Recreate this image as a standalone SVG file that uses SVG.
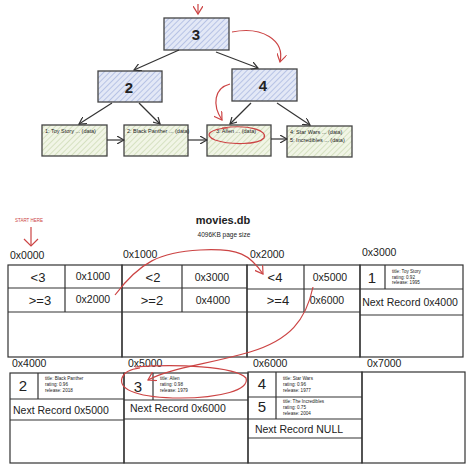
<svg xmlns="http://www.w3.org/2000/svg" width="474" height="471" viewBox="0 0 474 471">
<defs>
<pattern id="hb" patternUnits="userSpaceOnUse" width="4" height="4" patternTransform="rotate(45)">
<rect width="4" height="4" fill="#e3e8f6"/><line x1="0" y1="0" x2="0" y2="4" stroke="#9aaada" stroke-width="1.2"/>
</pattern>
<pattern id="hg" patternUnits="userSpaceOnUse" width="4" height="4" patternTransform="rotate(45)">
<rect width="4" height="4" fill="#f1f5e6"/><line x1="0" y1="0" x2="0" y2="4" stroke="#c5d4a8" stroke-width="1.2"/>
</pattern>
<marker id="ah" markerWidth="8" markerHeight="8" refX="7" refY="4" orient="auto" markerUnits="userSpaceOnUse">
<path d="M0,0 L7,4 L0,8" fill="none" stroke="#333" stroke-width="1.2"/>
</marker>
<marker id="ar" markerWidth="10" markerHeight="10" refX="8" refY="5" orient="auto" markerUnits="userSpaceOnUse">
<path d="M0,0 L8,5 L0,10" fill="none" stroke="#c44" stroke-width="1.2"/>
</marker>
</defs>
<style>
text{font-family:"Liberation Sans",Arial,sans-serif;fill:#222}
.n{font-size:15px;font-weight:bold;text-anchor:middle}
.lf{font-size:5.5px}
.bn{stroke:#444;stroke-width:1.3;fill:url(#hb)}
.gn{stroke:#444;stroke-width:1.3;fill:url(#hg)}
.c{stroke:#333;stroke-width:1.2;fill:none}
.r{stroke:#c44;stroke-width:1.2;fill:none}
.g{stroke:#333;stroke-width:1.2;fill:none}
.k{font-size:13px;text-anchor:middle}
.a{font-size:10.5px}
.ac{font-size:10.5px;text-anchor:middle}
.s{font-size:4.6px}
.d{font-size:15px;text-anchor:middle}
</style>
<rect width="474" height="471" fill="#fff"/>

<!-- Tree nodes -->
<g id="node3"><rect class="bn" x="164" y="18" width="65" height="32"/><text class="n" x="196" y="40">3</text></g>
<g id="node2"><rect class="bn" x="98" y="71" width="64" height="31"/><text class="n" x="129" y="93">2</text></g>
<g id="node4"><rect class="bn" x="232" y="69" width="65" height="32"/><text class="n" x="263" y="91">4</text></g>
<g id="leaf1"><rect class="gn" x="42" y="125" width="65" height="31"/><text class="lf" x="45" y="133">1: Toy Story ... (data)</text></g>
<g id="leaf2"><rect class="gn" x="124" y="125" width="64" height="31"/><text class="lf" x="127" y="133">2: Black Panther ... (data)</text></g>
<g id="leaf3"><rect class="gn" x="207" y="125" width="64" height="31"/><text class="lf" x="216" y="133">3: Alien ... (data)</text></g>
<g id="leaf4"><rect class="gn" x="287" y="126" width="65" height="31"/><text class="lf" x="290" y="134">4: Star Wars ... (data)</text><text class="lf" x="290" y="142">5: Incredibles ... (data)</text></g>

<g id="connectors">
<line class="c" x1="179" y1="50" x2="134" y2="70" marker-end="url(#ah)"/>
<line class="c" x1="216" y1="52" x2="258" y2="68" marker-end="url(#ah)"/>
<line class="c" x1="112" y1="103" x2="79" y2="124" marker-end="url(#ah)"/>
<line class="c" x1="139" y1="103" x2="160" y2="124" marker-end="url(#ah)"/>
<line class="c" x1="251" y1="103" x2="230" y2="124" marker-end="url(#ah)"/>
<line class="c" x1="277" y1="103" x2="310" y2="125" marker-end="url(#ah)"/>
<line class="c" x1="107" y1="140" x2="124" y2="140" marker-end="url(#ah)"/>
<line class="c" x1="188" y1="140" x2="207" y2="140" marker-end="url(#ah)"/>
<line class="c" x1="271" y1="139" x2="287" y2="139" marker-end="url(#ah)"/>
</g>

<!-- red annotations (top) -->
<g id="annotations-top">
<path class="r" d="M198,4 L198,14" marker-end="url(#ar)"/>
<path class="r" d="M232,32 C262,26 285,40 280,62" marker-end="url(#ar)"/>
<path class="r" d="M230,84 C214,88 212,105 222,120" marker-end="url(#ar)"/>
<path class="r" d="M222,128 C250,124 268,131 264,138 C258,145 230,145 215,140 C203,135 210,129 228,128"/>
</g>

<!-- Bottom: database file -->
<g id="title">
<text x="223" y="224" style="font-size:11px;font-weight:bold;text-anchor:middle">movies.db</text>
<text x="224" y="237" style="font-size:6.5px;text-anchor:middle">4096KB page size</text>
</g>
<g id="start">
<text x="29" y="222" style="font-size:4.5px;fill:#c44;text-anchor:middle">START HERE</text>
<line class="r" x1="31" y1="227" x2="31" y2="246"/>
<path class="r" d="M24,239 L31,246 L38,239"/>
</g>

<!-- page 0x0000 -->
<g id="page0000">
<text class="a" x="10" y="259">0x0000</text>
<rect class="g" x="8" y="265" width="114" height="92"/>
<line class="g" x1="65" y1="265" x2="65" y2="312"/>
<line class="g" x1="8" y1="288" x2="122" y2="288"/>
<line class="g" x1="8" y1="312" x2="122" y2="312"/>
<text class="k" x="38" y="282">&lt;3</text>
<text class="ac" x="93" y="280">0x1000</text>
<text class="k" x="40" y="305">&gt;=3</text>
<text class="ac" x="93" y="303">0x2000</text>
</g>
<!-- page 0x1000 -->
<g id="page1000">
<text class="a" x="123" y="258">0x1000</text>
<rect class="g" x="122" y="265" width="125" height="92"/>
<line class="g" x1="182" y1="265" x2="182" y2="312"/>
<line class="g" x1="122" y1="288" x2="247" y2="288"/>
<line class="g" x1="122" y1="312" x2="247" y2="312"/>
<text class="k" x="153" y="282">&lt;2</text>
<text class="ac" x="212" y="281">0x3000</text>
<text class="k" x="152" y="305">&gt;=2</text>
<text class="ac" x="213" y="304">0x4000</text>
</g>
<!-- page 0x2000 -->
<g id="page2000">
<text class="a" x="250" y="258">0x2000</text>
<rect class="g" x="247" y="265" width="113" height="92"/>
<line class="g" x1="304" y1="265" x2="304" y2="312"/>
<line class="g" x1="247" y1="289" x2="360" y2="289"/>
<line class="g" x1="247" y1="312" x2="360" y2="312"/>
<text class="k" x="275" y="282">&lt;4</text>
<text class="ac" x="330" y="281">0x5000</text>
<text class="k" x="278" y="305">&gt;=4</text>
<text class="ac" x="327" y="304">0x6000</text>
</g>
<!-- page 0x3000 -->
<g id="page3000">
<text class="a" x="362" y="256">0x3000</text>
<rect class="g" x="360" y="265" width="103" height="92"/>
<line class="g" x1="385" y1="265" x2="385" y2="289"/>
<line class="g" x1="360" y1="289" x2="463" y2="289"/>
<line class="g" x1="360" y1="315" x2="463" y2="315"/>
<text class="d" x="372" y="283">1</text>
<text class="s" x="392" y="273">title: Toy Story</text>
<text class="s" x="392" y="278.5">rating: 0.92</text>
<text class="s" x="392" y="284">release: 1995</text>
<text class="ac" x="410" y="306">Next Record 0x4000</text>
</g>
<!-- page 0x4000 -->
<g id="page4000">
<text class="a" x="12" y="367">0x4000</text>
<rect class="g" x="10" y="373" width="114" height="90"/>
<line class="g" x1="38" y1="373" x2="38" y2="399"/>
<line class="g" x1="10" y1="399" x2="124" y2="399"/>
<line class="g" x1="10" y1="420" x2="124" y2="420"/>
<text class="d" x="23" y="391">2</text>
<text class="s" x="45" y="380">title: Black Panther</text>
<text class="s" x="45" y="386">rating: 0.96</text>
<text class="s" x="45" y="392">release: 2018</text>
<text class="a" x="13" y="414">Next Record 0x5000</text>
</g>
<!-- page 0x5000 -->
<g id="page5000">
<text class="a" x="128" y="367">0x5000</text>
<rect class="g" x="124" y="373" width="124" height="90"/>
<line class="g" x1="153" y1="373" x2="153" y2="400"/>
<line class="g" x1="124" y1="400" x2="248" y2="400"/>
<line class="g" x1="124" y1="419" x2="248" y2="419"/>
<text class="d" x="138" y="392">3</text>
<text class="s" x="160" y="380">title: Alien</text>
<text class="s" x="160" y="386">rating: 0.98</text>
<text class="s" x="160" y="392">release: 1979</text>
<text class="a" x="130" y="412">Next Record 0x6000</text>
</g>
<!-- page 0x6000 -->
<g id="page6000">
<text class="a" x="253" y="367">0x6000</text>
<rect class="g" x="248" y="372" width="114" height="91"/>
<line class="g" x1="276" y1="372" x2="276" y2="419"/>
<line class="g" x1="248" y1="397" x2="362" y2="397"/>
<line class="g" x1="248" y1="419" x2="362" y2="419"/>
<line class="g" x1="248" y1="438" x2="362" y2="438"/>
<text class="d" x="262" y="389">4</text>
<text class="s" x="283" y="380">title: Star Wars</text>
<text class="s" x="283" y="386">rating: 0.96</text>
<text class="s" x="283" y="392">release: 1977</text>
<text class="d" x="262" y="412">5</text>
<text class="s" x="283" y="403">title: The Incredibles</text>
<text class="s" x="283" y="409">rating: 0.75</text>
<text class="s" x="283" y="415">release: 2004</text>
<text class="ac" x="299" y="433">Next Record NULL</text>
</g>
<!-- page 0x7000 -->
<g id="page7000">
<text class="a" x="367" y="367">0x7000</text>
<rect class="g" x="362" y="372" width="103" height="91"/>
</g>

<!-- red annotations (bottom) -->
<g id="annotations-bottom">
<path class="r" d="M115,295 C140,262 160,252 200,250 C240,248 250,255 263,274" marker-end="url(#ar)"/>
<path class="r" d="M313,287 C306,320 290,340 250,352 C205,365 170,368 148,380" marker-end="url(#ar)"/>
<path class="r" d="M135,367 C175,364 235,366 246,378 C250,390 220,398 180,398 C140,398 118,390 122,378 C124,372 130,369 140,368"/>
</g>
</svg>
